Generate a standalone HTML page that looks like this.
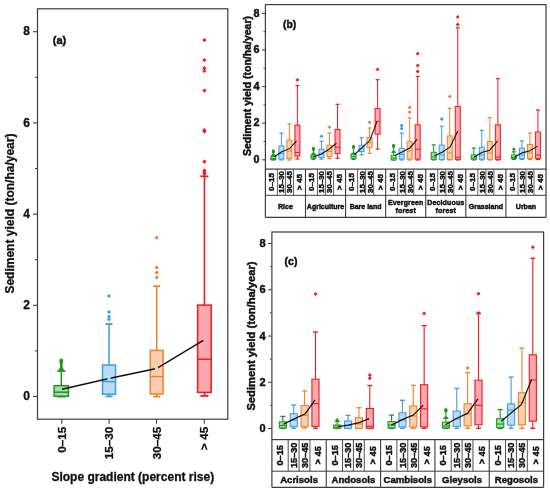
<!DOCTYPE html>
<html><head><meta charset="utf-8"><style>
html,body{margin:0;padding:0;background:#fff;}
svg{display:block;will-change:transform;font-family:"Liberation Sans",sans-serif;}
</style></head><body>
<svg width="550" height="492" viewBox="0 0 550 492">
<rect width="550" height="492" fill="#fff"/>
<line x1="61.30" y1="371.00" x2="61.30" y2="385.70" stroke="#1e961e" stroke-width="1.5" />
<line x1="61.30" y1="396.20" x2="61.30" y2="396.60" stroke="#1e961e" stroke-width="1.5" />
<line x1="57.30" y1="371.00" x2="65.30" y2="371.00" stroke="#1e961e" stroke-width="1.7999999999999998" />
<line x1="57.30" y1="396.60" x2="65.30" y2="396.60" stroke="#1e961e" stroke-width="1.7999999999999998" />
<rect x="54.15" y="385.70" width="14.30" height="10.50" stroke="#1e961e" fill="#a8dca8" stroke-width="1.5"/>
<line x1="54.15" y1="392.20" x2="68.45" y2="392.20" stroke="#1e961e" stroke-width="1.5" />
<path d="M61.3 358.6 C63.6 358.6 63.6 362.8 62.6 363.6 L62.6 367.6 L64.2 370.2 L58.4 370.2 L60.0 367.6 L60.0 363.6 C59.0 362.8 59.0 358.6 61.3 358.6Z" fill="#1e961e"/>
<line x1="109.00" y1="324.10" x2="109.00" y2="365.00" stroke="#3c9ee0" stroke-width="1.5" />
<line x1="109.00" y1="394.20" x2="109.00" y2="396.40" stroke="#3c9ee0" stroke-width="1.5" />
<line x1="105.50" y1="324.10" x2="112.50" y2="324.10" stroke="#3c9ee0" stroke-width="1.7999999999999998" />
<line x1="105.50" y1="396.40" x2="112.50" y2="396.40" stroke="#3c9ee0" stroke-width="1.7999999999999998" />
<rect x="102.50" y="365.00" width="13.00" height="29.20" stroke="#3c9ee0" fill="#bcdcf4" stroke-width="1.5"/>
<line x1="102.50" y1="381.60" x2="115.50" y2="381.60" stroke="#3c9ee0" stroke-width="1.5" />
<path d="M109.00 293.90L111.10 296.00L109.00 298.10L106.90 296.00Z" fill="#3c9ee0"/>
<path d="M109.00 309.90L111.10 312.00L109.00 314.10L106.90 312.00Z" fill="#3c9ee0"/>
<path d="M109.00 314.60L111.10 316.70L109.00 318.80L106.90 316.70Z" fill="#3c9ee0"/>
<path d="M109.00 317.40L111.10 319.50L109.00 321.60L106.90 319.50Z" fill="#3c9ee0"/>
<line x1="156.70" y1="286.20" x2="156.70" y2="350.40" stroke="#f0802c" stroke-width="1.5" />
<line x1="156.70" y1="394.00" x2="156.70" y2="396.60" stroke="#f0802c" stroke-width="1.5" />
<line x1="153.20" y1="286.20" x2="160.20" y2="286.20" stroke="#f0802c" stroke-width="1.7999999999999998" />
<line x1="153.20" y1="396.60" x2="160.20" y2="396.60" stroke="#f0802c" stroke-width="1.7999999999999998" />
<rect x="150.30" y="350.40" width="12.80" height="43.60" stroke="#f0802c" fill="#fbcfae" stroke-width="1.5"/>
<line x1="150.30" y1="376.60" x2="163.10" y2="376.60" stroke="#f0802c" stroke-width="1.5" />
<path d="M156.70 235.60L158.80 237.70L156.70 239.80L154.60 237.70Z" fill="#f0802c"/>
<path d="M156.70 265.30L158.80 267.40L156.70 269.50L154.60 267.40Z" fill="#f0802c"/>
<path d="M156.70 270.50L158.80 272.60L156.70 274.70L154.60 272.60Z" fill="#f0802c"/>
<path d="M156.70 275.40L158.80 277.50L156.70 279.60L154.60 277.50Z" fill="#f0802c"/>
<line x1="204.40" y1="176.30" x2="204.40" y2="305.10" stroke="#ee1a1e" stroke-width="1.5" />
<line x1="204.40" y1="392.40" x2="204.40" y2="395.90" stroke="#ee1a1e" stroke-width="1.5" />
<line x1="200.40" y1="176.30" x2="208.40" y2="176.30" stroke="#ee1a1e" stroke-width="1.7999999999999998" />
<line x1="200.40" y1="395.90" x2="208.40" y2="395.90" stroke="#ee1a1e" stroke-width="1.7999999999999998" />
<rect x="197.60" y="305.10" width="13.60" height="87.30" stroke="#ee1a1e" fill="#f8a8ae" stroke-width="1.5"/>
<line x1="197.60" y1="359.20" x2="211.20" y2="359.20" stroke="#ee1a1e" stroke-width="1.5" />
<path d="M204.40 38.00L206.50 40.10L204.40 42.20L202.30 40.10Z" fill="#ee1a1e"/>
<path d="M204.40 58.00L206.50 60.10L204.40 62.20L202.30 60.10Z" fill="#ee1a1e"/>
<path d="M204.40 66.10L206.50 68.20L204.40 70.30L202.30 68.20Z" fill="#ee1a1e"/>
<path d="M204.40 68.90L206.50 71.00L204.40 73.10L202.30 71.00Z" fill="#ee1a1e"/>
<path d="M204.40 88.50L206.50 90.60L204.40 92.70L202.30 90.60Z" fill="#ee1a1e"/>
<path d="M204.40 128.10L206.50 130.20L204.40 132.30L202.30 130.20Z" fill="#ee1a1e"/>
<path d="M204.40 129.30L206.50 131.40L204.40 133.50L202.30 131.40Z" fill="#ee1a1e"/>
<path d="M204.40 159.60L206.50 161.70L204.40 163.80L202.30 161.70Z" fill="#ee1a1e"/>
<path d="M204.40 168.50L206.50 170.60L204.40 172.70L202.30 170.60Z" fill="#ee1a1e"/>
<path d="M204.40 170.10L206.50 172.20L204.40 174.30L202.30 172.20Z" fill="#ee1a1e"/>
<path d="M204.40 171.70L206.50 173.80L204.40 175.90L202.30 173.80Z" fill="#ee1a1e"/>
<polyline points="62.00,389.30 109.00,378.50 156.50,368.60 203.30,340.40" fill="none" stroke="#111" stroke-width="1.5"/>
<rect x="107.40" y="376.90" width="3.2" height="3.2" fill="#bcdcf4"/>
<rect x="154.90" y="367.00" width="3.2" height="3.2" fill="#fbcfae"/>
<rect x="37.5" y="8.8" width="190.3" height="410.4" fill="none" stroke="#3c3c3c" stroke-width="1.2"/>
<line x1="33.00" y1="396.50" x2="37.50" y2="396.50" stroke="#3c3c3c" stroke-width="1.1" />
<text x="30.00" y="400.10" font-size="12" text-anchor="end" font-weight="bold" fill="#111" stroke="#111" stroke-width="0.3" >0</text>
<line x1="35.00" y1="350.90" x2="37.50" y2="350.90" stroke="#3c3c3c" stroke-width="1.0" />
<line x1="33.00" y1="305.30" x2="37.50" y2="305.30" stroke="#3c3c3c" stroke-width="1.1" />
<text x="30.00" y="308.90" font-size="12" text-anchor="end" font-weight="bold" fill="#111" stroke="#111" stroke-width="0.3" >2</text>
<line x1="35.00" y1="259.70" x2="37.50" y2="259.70" stroke="#3c3c3c" stroke-width="1.0" />
<line x1="33.00" y1="214.10" x2="37.50" y2="214.10" stroke="#3c3c3c" stroke-width="1.1" />
<text x="30.00" y="217.70" font-size="12" text-anchor="end" font-weight="bold" fill="#111" stroke="#111" stroke-width="0.3" >4</text>
<line x1="35.00" y1="168.50" x2="37.50" y2="168.50" stroke="#3c3c3c" stroke-width="1.0" />
<line x1="33.00" y1="122.90" x2="37.50" y2="122.90" stroke="#3c3c3c" stroke-width="1.1" />
<text x="30.00" y="126.50" font-size="12" text-anchor="end" font-weight="bold" fill="#111" stroke="#111" stroke-width="0.3" >6</text>
<line x1="35.00" y1="77.30" x2="37.50" y2="77.30" stroke="#3c3c3c" stroke-width="1.0" />
<line x1="33.00" y1="31.70" x2="37.50" y2="31.70" stroke="#3c3c3c" stroke-width="1.1" />
<text x="30.00" y="35.30" font-size="12" text-anchor="end" font-weight="bold" fill="#111" stroke="#111" stroke-width="0.3" >8</text>
<line x1="61.80" y1="419.20" x2="61.80" y2="423.70" stroke="#3c3c3c" stroke-width="1.1" />
<line x1="109.10" y1="419.20" x2="109.10" y2="423.70" stroke="#3c3c3c" stroke-width="1.1" />
<line x1="156.50" y1="419.20" x2="156.50" y2="423.70" stroke="#3c3c3c" stroke-width="1.1" />
<line x1="204.30" y1="419.20" x2="204.30" y2="423.70" stroke="#3c3c3c" stroke-width="1.1" />
<text x="66.00" y="426.80" font-size="11.7" text-anchor="end" font-weight="bold" fill="#111" stroke="#111" stroke-width="0.3" transform="rotate(-90 66.00 426.80)" >0–15</text>
<text x="113.30" y="426.80" font-size="11.7" text-anchor="end" font-weight="bold" fill="#111" stroke="#111" stroke-width="0.3" transform="rotate(-90 113.30 426.80)" >15–30</text>
<text x="160.70" y="426.80" font-size="11.7" text-anchor="end" font-weight="bold" fill="#111" stroke="#111" stroke-width="0.3" transform="rotate(-90 160.70 426.80)" >30–45</text>
<text x="208.50" y="426.80" font-size="11.7" text-anchor="end" font-weight="bold" fill="#111" stroke="#111" stroke-width="0.3" transform="rotate(-90 208.50 426.80)" >&gt; 45</text>
<text x="13.70" y="213.60" font-size="12" text-anchor="middle" font-weight="bold" fill="#111" stroke="#111" stroke-width="0.3" transform="rotate(-90 13.70 213.60)" >Sediment yield (ton/ha/year)</text>
<text x="132.80" y="481.00" font-size="12" text-anchor="middle" font-weight="bold" fill="#111" stroke="#111" stroke-width="0.3" >Slope gradient (percent rise)</text>
<text x="59.50" y="44.30" font-size="11" text-anchor="middle" font-weight="bold" fill="#111" stroke="#111" stroke-width="0.45" >(a)</text>
<line x1="273.37" y1="155.50" x2="273.37" y2="156.50" stroke="#1e961e" stroke-width="1.0" />
<line x1="273.37" y1="159.60" x2="273.37" y2="160.00" stroke="#1e961e" stroke-width="1.0" />
<line x1="271.37" y1="155.50" x2="275.37" y2="155.50" stroke="#1e961e" stroke-width="1.2" />
<line x1="271.37" y1="160.00" x2="275.37" y2="160.00" stroke="#1e961e" stroke-width="1.2" />
<rect x="270.87" y="156.50" width="5.00" height="3.10" stroke="#1e961e" fill="#a8dca8" stroke-width="1.0"/>
<line x1="270.87" y1="158.50" x2="275.87" y2="158.50" stroke="#1e961e" stroke-width="1.0" />
<path d="M273.37 149.17 C275.42 149.17 275.42 153.16 273.89 153.36 L273.89 153.60 L275.84 155.50 L270.90 155.50 L272.84 153.60 L272.84 153.36 C271.32 153.16 271.32 149.17 273.37 149.17Z" fill="#1e961e"/>
<line x1="281.38" y1="133.20" x2="281.38" y2="145.90" stroke="#3c9ee0" stroke-width="1.0" />
<line x1="281.38" y1="159.10" x2="281.38" y2="160.00" stroke="#3c9ee0" stroke-width="1.0" />
<line x1="279.38" y1="133.20" x2="283.38" y2="133.20" stroke="#3c9ee0" stroke-width="1.2" />
<line x1="279.38" y1="160.00" x2="283.38" y2="160.00" stroke="#3c9ee0" stroke-width="1.2" />
<rect x="278.88" y="145.90" width="5.00" height="13.20" stroke="#3c9ee0" fill="#bcdcf4" stroke-width="1.0"/>
<line x1="278.88" y1="153.50" x2="283.88" y2="153.50" stroke="#3c9ee0" stroke-width="1.0" />
<line x1="289.40" y1="123.90" x2="289.40" y2="140.10" stroke="#f0802c" stroke-width="1.0" />
<line x1="289.40" y1="158.60" x2="289.40" y2="160.00" stroke="#f0802c" stroke-width="1.0" />
<line x1="287.40" y1="123.90" x2="291.40" y2="123.90" stroke="#f0802c" stroke-width="1.2" />
<line x1="287.40" y1="160.00" x2="291.40" y2="160.00" stroke="#f0802c" stroke-width="1.2" />
<rect x="286.90" y="140.10" width="5.00" height="18.50" stroke="#f0802c" fill="#fbcfae" stroke-width="1.0"/>
<line x1="286.90" y1="151.00" x2="291.90" y2="151.00" stroke="#f0802c" stroke-width="1.0" />
<line x1="297.42" y1="85.50" x2="297.42" y2="125.10" stroke="#ee1a1e" stroke-width="1.0" />
<line x1="297.42" y1="156.00" x2="297.42" y2="159.00" stroke="#ee1a1e" stroke-width="1.0" />
<line x1="295.42" y1="85.50" x2="299.42" y2="85.50" stroke="#ee1a1e" stroke-width="1.2" />
<line x1="295.42" y1="159.00" x2="299.42" y2="159.00" stroke="#ee1a1e" stroke-width="1.2" />
<rect x="294.92" y="125.10" width="5.00" height="30.90" stroke="#ee1a1e" fill="#f8a8ae" stroke-width="1.0"/>
<line x1="294.92" y1="152.50" x2="299.92" y2="152.50" stroke="#ee1a1e" stroke-width="1.0" />
<path d="M297.42 78.00L299.32 79.90L297.42 81.80L295.52 79.90Z" fill="#ee1a1e"/>
<polyline points="274.60,156.50 281.80,151.70 289.90,148.40 296.50,140.80" fill="none" stroke="#111" stroke-width="1.1"/>
<line x1="313.45" y1="154.20" x2="313.45" y2="155.00" stroke="#1e961e" stroke-width="1.0" />
<line x1="313.45" y1="158.30" x2="313.45" y2="159.50" stroke="#1e961e" stroke-width="1.0" />
<line x1="311.45" y1="154.20" x2="315.45" y2="154.20" stroke="#1e961e" stroke-width="1.2" />
<line x1="311.45" y1="159.50" x2="315.45" y2="159.50" stroke="#1e961e" stroke-width="1.2" />
<rect x="310.95" y="155.00" width="5.00" height="3.30" stroke="#1e961e" fill="#a8dca8" stroke-width="1.0"/>
<line x1="310.95" y1="157.00" x2="315.95" y2="157.00" stroke="#1e961e" stroke-width="1.0" />
<path d="M313.45 146.67 C315.50 146.67 315.50 150.66 313.98 150.86 L313.98 152.30 L315.92 154.20 L310.98 154.20 L312.93 152.30 L312.93 150.86 C311.40 150.66 311.40 146.67 313.45 146.67Z" fill="#1e961e"/>
<line x1="321.47" y1="141.20" x2="321.47" y2="149.30" stroke="#3c9ee0" stroke-width="1.0" />
<line x1="321.47" y1="157.50" x2="321.47" y2="159.10" stroke="#3c9ee0" stroke-width="1.0" />
<line x1="319.47" y1="141.20" x2="323.47" y2="141.20" stroke="#3c9ee0" stroke-width="1.2" />
<line x1="319.47" y1="159.10" x2="323.47" y2="159.10" stroke="#3c9ee0" stroke-width="1.2" />
<rect x="318.97" y="149.30" width="5.00" height="8.20" stroke="#3c9ee0" fill="#bcdcf4" stroke-width="1.0"/>
<line x1="318.97" y1="154.00" x2="323.97" y2="154.00" stroke="#3c9ee0" stroke-width="1.0" />
<path d="M321.47 134.40L323.37 136.30L321.47 138.20L319.57 136.30Z" fill="#3c9ee0"/>
<line x1="329.49" y1="133.10" x2="329.49" y2="145.30" stroke="#f0802c" stroke-width="1.0" />
<line x1="329.49" y1="156.70" x2="329.49" y2="158.50" stroke="#f0802c" stroke-width="1.0" />
<line x1="327.49" y1="133.10" x2="331.49" y2="133.10" stroke="#f0802c" stroke-width="1.2" />
<line x1="327.49" y1="158.50" x2="331.49" y2="158.50" stroke="#f0802c" stroke-width="1.2" />
<rect x="326.99" y="145.30" width="5.00" height="11.40" stroke="#f0802c" fill="#fbcfae" stroke-width="1.0"/>
<line x1="326.99" y1="151.50" x2="331.99" y2="151.50" stroke="#f0802c" stroke-width="1.0" />
<path d="M329.49 125.20L331.39 127.10L329.49 129.00L327.59 127.10Z" fill="#f0802c"/>
<line x1="337.50" y1="104.30" x2="337.50" y2="129.50" stroke="#ee1a1e" stroke-width="1.0" />
<line x1="337.50" y1="153.40" x2="337.50" y2="158.30" stroke="#ee1a1e" stroke-width="1.0" />
<line x1="335.50" y1="104.30" x2="339.50" y2="104.30" stroke="#ee1a1e" stroke-width="1.2" />
<line x1="335.50" y1="158.30" x2="339.50" y2="158.30" stroke="#ee1a1e" stroke-width="1.2" />
<rect x="335.00" y="129.50" width="5.00" height="23.90" stroke="#ee1a1e" fill="#f8a8ae" stroke-width="1.0"/>
<line x1="335.00" y1="147.20" x2="340.00" y2="147.20" stroke="#ee1a1e" stroke-width="1.0" />
<polyline points="313.50,156.70 321.30,153.90 329.40,149.00 336.50,143.30" fill="none" stroke="#111" stroke-width="1.1"/>
<line x1="353.54" y1="154.00" x2="353.54" y2="154.10" stroke="#1e961e" stroke-width="1.0" />
<line x1="353.54" y1="158.40" x2="353.54" y2="159.50" stroke="#1e961e" stroke-width="1.0" />
<line x1="351.54" y1="154.00" x2="355.54" y2="154.00" stroke="#1e961e" stroke-width="1.2" />
<line x1="351.54" y1="159.50" x2="355.54" y2="159.50" stroke="#1e961e" stroke-width="1.2" />
<rect x="351.04" y="154.10" width="5.00" height="4.30" stroke="#1e961e" fill="#a8dca8" stroke-width="1.0"/>
<line x1="351.04" y1="156.50" x2="356.04" y2="156.50" stroke="#1e961e" stroke-width="1.0" />
<path d="M353.54 144.67 C355.59 144.67 355.59 148.66 354.06 148.86 L354.06 152.10 L356.01 154.00 L351.07 154.00 L353.02 152.10 L353.02 148.86 C351.49 148.66 351.49 144.67 353.54 144.67Z" fill="#1e961e"/>
<line x1="361.56" y1="137.70" x2="361.56" y2="145.30" stroke="#3c9ee0" stroke-width="1.0" />
<line x1="361.56" y1="151.50" x2="361.56" y2="154.80" stroke="#3c9ee0" stroke-width="1.0" />
<line x1="359.56" y1="137.70" x2="363.56" y2="137.70" stroke="#3c9ee0" stroke-width="1.2" />
<line x1="359.56" y1="154.80" x2="363.56" y2="154.80" stroke="#3c9ee0" stroke-width="1.2" />
<rect x="359.06" y="145.30" width="5.00" height="6.20" stroke="#3c9ee0" fill="#bcdcf4" stroke-width="1.0"/>
<line x1="359.06" y1="148.50" x2="364.06" y2="148.50" stroke="#3c9ee0" stroke-width="1.0" />
<line x1="369.57" y1="128.00" x2="369.57" y2="137.70" stroke="#f0802c" stroke-width="1.0" />
<line x1="369.57" y1="147.70" x2="369.57" y2="153.40" stroke="#f0802c" stroke-width="1.0" />
<line x1="367.57" y1="128.00" x2="371.57" y2="128.00" stroke="#f0802c" stroke-width="1.2" />
<line x1="367.57" y1="153.40" x2="371.57" y2="153.40" stroke="#f0802c" stroke-width="1.2" />
<rect x="367.07" y="137.70" width="5.00" height="10.00" stroke="#f0802c" fill="#fbcfae" stroke-width="1.0"/>
<line x1="367.07" y1="142.50" x2="372.07" y2="142.50" stroke="#f0802c" stroke-width="1.0" />
<path d="M369.57 120.40L371.47 122.30L369.57 124.20L367.67 122.30Z" fill="#f0802c"/>
<line x1="377.59" y1="79.70" x2="377.59" y2="108.50" stroke="#ee1a1e" stroke-width="1.0" />
<line x1="377.59" y1="134.20" x2="377.59" y2="149.10" stroke="#ee1a1e" stroke-width="1.0" />
<line x1="375.59" y1="79.70" x2="379.59" y2="79.70" stroke="#ee1a1e" stroke-width="1.2" />
<line x1="375.59" y1="149.10" x2="379.59" y2="149.10" stroke="#ee1a1e" stroke-width="1.2" />
<rect x="375.09" y="108.50" width="5.00" height="25.70" stroke="#ee1a1e" fill="#f8a8ae" stroke-width="1.0"/>
<line x1="375.09" y1="121.40" x2="380.09" y2="121.40" stroke="#ee1a1e" stroke-width="1.0" />
<path d="M377.59 67.50L379.49 69.40L377.59 71.30L375.69 69.40Z" fill="#ee1a1e"/>
<polyline points="354.30,154.80 361.40,148.10 369.90,140.30 377.00,121.40" fill="none" stroke="#111" stroke-width="1.1"/>
<line x1="393.62" y1="152.30" x2="393.62" y2="155.30" stroke="#1e961e" stroke-width="1.0" />
<line x1="393.62" y1="159.90" x2="393.62" y2="160.00" stroke="#1e961e" stroke-width="1.0" />
<line x1="391.62" y1="152.30" x2="395.62" y2="152.30" stroke="#1e961e" stroke-width="1.2" />
<line x1="391.62" y1="160.00" x2="395.62" y2="160.00" stroke="#1e961e" stroke-width="1.2" />
<rect x="391.12" y="155.30" width="5.00" height="4.60" stroke="#1e961e" fill="#a8dca8" stroke-width="1.0"/>
<line x1="391.12" y1="158.00" x2="396.12" y2="158.00" stroke="#1e961e" stroke-width="1.0" />
<path d="M393.62 143.67 C395.68 143.67 395.68 147.66 394.15 147.86 L394.15 150.40 L396.09 152.30 L391.15 152.30 L393.10 150.40 L393.10 147.86 C391.57 147.66 391.57 143.67 393.62 143.67Z" fill="#1e961e"/>
<line x1="401.64" y1="133.20" x2="401.64" y2="148.40" stroke="#3c9ee0" stroke-width="1.0" />
<line x1="401.64" y1="159.10" x2="401.64" y2="160.00" stroke="#3c9ee0" stroke-width="1.0" />
<line x1="399.64" y1="133.20" x2="403.64" y2="133.20" stroke="#3c9ee0" stroke-width="1.2" />
<line x1="399.64" y1="160.00" x2="403.64" y2="160.00" stroke="#3c9ee0" stroke-width="1.2" />
<rect x="399.14" y="148.40" width="5.00" height="10.70" stroke="#3c9ee0" fill="#bcdcf4" stroke-width="1.0"/>
<line x1="399.14" y1="154.50" x2="404.14" y2="154.50" stroke="#3c9ee0" stroke-width="1.0" />
<path d="M401.64 123.60L403.54 125.50L401.64 127.40L399.74 125.50Z" fill="#3c9ee0"/>
<path d="M401.64 126.60L403.54 128.50L401.64 130.40L399.74 128.50Z" fill="#3c9ee0"/>
<line x1="409.66" y1="117.90" x2="409.66" y2="141.60" stroke="#f0802c" stroke-width="1.0" />
<line x1="409.66" y1="159.10" x2="409.66" y2="160.00" stroke="#f0802c" stroke-width="1.0" />
<line x1="407.66" y1="117.90" x2="411.66" y2="117.90" stroke="#f0802c" stroke-width="1.2" />
<line x1="407.66" y1="160.00" x2="411.66" y2="160.00" stroke="#f0802c" stroke-width="1.2" />
<rect x="407.16" y="141.60" width="5.00" height="17.50" stroke="#f0802c" fill="#fbcfae" stroke-width="1.0"/>
<line x1="407.16" y1="151.00" x2="412.16" y2="151.00" stroke="#f0802c" stroke-width="1.0" />
<path d="M409.66 105.60L411.56 107.50L409.66 109.40L407.76 107.50Z" fill="#f0802c"/>
<path d="M409.66 110.20L411.56 112.10L409.66 114.00L407.76 112.10Z" fill="#f0802c"/>
<line x1="417.68" y1="76.40" x2="417.68" y2="124.80" stroke="#ee1a1e" stroke-width="1.0" />
<line x1="417.68" y1="159.10" x2="417.68" y2="160.00" stroke="#ee1a1e" stroke-width="1.0" />
<line x1="415.68" y1="76.40" x2="419.68" y2="76.40" stroke="#ee1a1e" stroke-width="1.2" />
<line x1="415.68" y1="160.00" x2="419.68" y2="160.00" stroke="#ee1a1e" stroke-width="1.2" />
<rect x="415.18" y="124.80" width="5.00" height="34.30" stroke="#ee1a1e" fill="#f8a8ae" stroke-width="1.0"/>
<line x1="415.18" y1="149.20" x2="420.18" y2="149.20" stroke="#ee1a1e" stroke-width="1.0" />
<path d="M417.68 51.80L419.58 53.70L417.68 55.60L415.78 53.70Z" fill="#ee1a1e"/>
<path d="M417.68 63.60L419.58 65.50L417.68 67.40L415.78 65.50Z" fill="#ee1a1e"/>
<path d="M417.68 69.60L419.58 71.50L417.68 73.40L415.78 71.50Z" fill="#ee1a1e"/>
<polyline points="394.90,155.60 402.60,151.80 410.20,147.70 417.10,139.30" fill="none" stroke="#111" stroke-width="1.1"/>
<line x1="433.71" y1="144.90" x2="433.71" y2="152.30" stroke="#1e961e" stroke-width="1.0" />
<line x1="433.71" y1="159.40" x2="433.71" y2="160.00" stroke="#1e961e" stroke-width="1.0" />
<line x1="431.71" y1="144.90" x2="435.71" y2="144.90" stroke="#1e961e" stroke-width="1.2" />
<line x1="431.71" y1="160.00" x2="435.71" y2="160.00" stroke="#1e961e" stroke-width="1.2" />
<rect x="431.21" y="152.30" width="5.00" height="7.10" stroke="#1e961e" fill="#a8dca8" stroke-width="1.0"/>
<line x1="431.21" y1="157.00" x2="436.21" y2="157.00" stroke="#1e961e" stroke-width="1.0" />
<line x1="441.73" y1="126.30" x2="441.73" y2="145.10" stroke="#3c9ee0" stroke-width="1.0" />
<line x1="441.73" y1="159.40" x2="441.73" y2="160.00" stroke="#3c9ee0" stroke-width="1.0" />
<line x1="439.73" y1="126.30" x2="443.73" y2="126.30" stroke="#3c9ee0" stroke-width="1.2" />
<line x1="439.73" y1="160.00" x2="443.73" y2="160.00" stroke="#3c9ee0" stroke-width="1.2" />
<rect x="439.23" y="145.10" width="5.00" height="14.30" stroke="#3c9ee0" fill="#bcdcf4" stroke-width="1.0"/>
<line x1="439.23" y1="155.00" x2="444.23" y2="155.00" stroke="#3c9ee0" stroke-width="1.0" />
<path d="M441.73 117.10L443.63 119.00L441.73 120.90L439.83 119.00Z" fill="#3c9ee0"/>
<line x1="449.74" y1="108.40" x2="449.74" y2="135.90" stroke="#f0802c" stroke-width="1.0" />
<line x1="449.74" y1="159.40" x2="449.74" y2="160.00" stroke="#f0802c" stroke-width="1.0" />
<line x1="447.74" y1="108.40" x2="451.74" y2="108.40" stroke="#f0802c" stroke-width="1.2" />
<line x1="447.74" y1="160.00" x2="451.74" y2="160.00" stroke="#f0802c" stroke-width="1.2" />
<rect x="447.24" y="135.90" width="5.00" height="23.50" stroke="#f0802c" fill="#fbcfae" stroke-width="1.0"/>
<line x1="447.24" y1="153.00" x2="452.24" y2="153.00" stroke="#f0802c" stroke-width="1.0" />
<path d="M449.74 94.60L451.64 96.50L449.74 98.40L447.84 96.50Z" fill="#f0802c"/>
<line x1="457.76" y1="27.80" x2="457.76" y2="106.50" stroke="#ee1a1e" stroke-width="1.0" />
<line x1="457.76" y1="159.40" x2="457.76" y2="160.00" stroke="#ee1a1e" stroke-width="1.0" />
<line x1="455.76" y1="27.80" x2="459.76" y2="27.80" stroke="#ee1a1e" stroke-width="1.2" />
<line x1="455.76" y1="160.00" x2="459.76" y2="160.00" stroke="#ee1a1e" stroke-width="1.2" />
<rect x="455.26" y="106.50" width="5.00" height="52.90" stroke="#ee1a1e" fill="#f8a8ae" stroke-width="1.0"/>
<line x1="455.26" y1="157.30" x2="460.26" y2="157.30" stroke="#ee1a1e" stroke-width="1.0" />
<path d="M457.76 15.00L459.66 16.90L457.76 18.80L455.86 16.90Z" fill="#ee1a1e"/>
<path d="M457.76 22.60L459.66 24.50L457.76 26.40L455.86 24.50Z" fill="#ee1a1e"/>
<polyline points="434.50,155.80 442.10,152.30 450.20,146.90 457.80,130.90" fill="none" stroke="#111" stroke-width="1.1"/>
<line x1="473.80" y1="148.20" x2="473.80" y2="154.90" stroke="#1e961e" stroke-width="1.0" />
<line x1="473.80" y1="159.30" x2="473.80" y2="160.00" stroke="#1e961e" stroke-width="1.0" />
<line x1="471.80" y1="148.20" x2="475.80" y2="148.20" stroke="#1e961e" stroke-width="1.2" />
<line x1="471.80" y1="160.00" x2="475.80" y2="160.00" stroke="#1e961e" stroke-width="1.2" />
<rect x="471.30" y="154.90" width="5.00" height="4.40" stroke="#1e961e" fill="#a8dca8" stroke-width="1.0"/>
<line x1="471.30" y1="158.00" x2="476.30" y2="158.00" stroke="#1e961e" stroke-width="1.0" />
<line x1="481.81" y1="130.30" x2="481.81" y2="147.20" stroke="#3c9ee0" stroke-width="1.0" />
<line x1="481.81" y1="159.30" x2="481.81" y2="160.00" stroke="#3c9ee0" stroke-width="1.0" />
<line x1="479.81" y1="130.30" x2="483.81" y2="130.30" stroke="#3c9ee0" stroke-width="1.2" />
<line x1="479.81" y1="160.00" x2="483.81" y2="160.00" stroke="#3c9ee0" stroke-width="1.2" />
<rect x="479.31" y="147.20" width="5.00" height="12.10" stroke="#3c9ee0" fill="#bcdcf4" stroke-width="1.0"/>
<line x1="479.31" y1="155.00" x2="484.31" y2="155.00" stroke="#3c9ee0" stroke-width="1.0" />
<line x1="489.83" y1="117.70" x2="489.83" y2="141.50" stroke="#f0802c" stroke-width="1.0" />
<line x1="489.83" y1="159.30" x2="489.83" y2="160.00" stroke="#f0802c" stroke-width="1.0" />
<line x1="487.83" y1="117.70" x2="491.83" y2="117.70" stroke="#f0802c" stroke-width="1.2" />
<line x1="487.83" y1="160.00" x2="491.83" y2="160.00" stroke="#f0802c" stroke-width="1.2" />
<rect x="487.33" y="141.50" width="5.00" height="17.80" stroke="#f0802c" fill="#fbcfae" stroke-width="1.0"/>
<line x1="487.33" y1="153.00" x2="492.33" y2="153.00" stroke="#f0802c" stroke-width="1.0" />
<line x1="497.85" y1="78.70" x2="497.85" y2="124.80" stroke="#ee1a1e" stroke-width="1.0" />
<line x1="497.85" y1="159.30" x2="497.85" y2="160.00" stroke="#ee1a1e" stroke-width="1.0" />
<line x1="495.85" y1="78.70" x2="499.85" y2="78.70" stroke="#ee1a1e" stroke-width="1.2" />
<line x1="495.85" y1="160.00" x2="499.85" y2="160.00" stroke="#ee1a1e" stroke-width="1.2" />
<rect x="495.35" y="124.80" width="5.00" height="34.50" stroke="#ee1a1e" fill="#f8a8ae" stroke-width="1.0"/>
<line x1="495.35" y1="157.00" x2="500.35" y2="157.00" stroke="#ee1a1e" stroke-width="1.0" />
<polyline points="474.10,156.90 482.30,152.20 489.80,150.20 497.50,141.10" fill="none" stroke="#111" stroke-width="1.1"/>
<line x1="513.88" y1="151.80" x2="513.88" y2="155.00" stroke="#1e961e" stroke-width="1.0" />
<line x1="513.88" y1="158.60" x2="513.88" y2="159.50" stroke="#1e961e" stroke-width="1.0" />
<line x1="511.88" y1="151.80" x2="515.88" y2="151.80" stroke="#1e961e" stroke-width="1.2" />
<line x1="511.88" y1="159.50" x2="515.88" y2="159.50" stroke="#1e961e" stroke-width="1.2" />
<rect x="511.38" y="155.00" width="5.00" height="3.60" stroke="#1e961e" fill="#a8dca8" stroke-width="1.0"/>
<line x1="511.38" y1="157.50" x2="516.38" y2="157.50" stroke="#1e961e" stroke-width="1.0" />
<path d="M513.88 147.40L515.78 149.30L513.88 151.20L511.98 149.30Z" fill="#1e961e"/>
<line x1="521.90" y1="140.90" x2="521.90" y2="148.20" stroke="#3c9ee0" stroke-width="1.0" />
<line x1="521.90" y1="158.60" x2="521.90" y2="159.50" stroke="#3c9ee0" stroke-width="1.0" />
<line x1="519.90" y1="140.90" x2="523.90" y2="140.90" stroke="#3c9ee0" stroke-width="1.2" />
<line x1="519.90" y1="159.50" x2="523.90" y2="159.50" stroke="#3c9ee0" stroke-width="1.2" />
<rect x="519.40" y="148.20" width="5.00" height="10.40" stroke="#3c9ee0" fill="#bcdcf4" stroke-width="1.0"/>
<line x1="519.40" y1="155.00" x2="524.40" y2="155.00" stroke="#3c9ee0" stroke-width="1.0" />
<line x1="529.92" y1="133.10" x2="529.92" y2="144.50" stroke="#f0802c" stroke-width="1.0" />
<line x1="529.92" y1="158.60" x2="529.92" y2="159.50" stroke="#f0802c" stroke-width="1.0" />
<line x1="527.92" y1="133.10" x2="531.92" y2="133.10" stroke="#f0802c" stroke-width="1.2" />
<line x1="527.92" y1="159.50" x2="531.92" y2="159.50" stroke="#f0802c" stroke-width="1.2" />
<rect x="527.42" y="144.50" width="5.00" height="14.10" stroke="#f0802c" fill="#fbcfae" stroke-width="1.0"/>
<line x1="527.42" y1="153.00" x2="532.42" y2="153.00" stroke="#f0802c" stroke-width="1.0" />
<line x1="537.93" y1="110.00" x2="537.93" y2="132.00" stroke="#ee1a1e" stroke-width="1.0" />
<line x1="537.93" y1="158.60" x2="537.93" y2="159.50" stroke="#ee1a1e" stroke-width="1.0" />
<line x1="535.93" y1="110.00" x2="539.93" y2="110.00" stroke="#ee1a1e" stroke-width="1.2" />
<line x1="535.93" y1="159.50" x2="539.93" y2="159.50" stroke="#ee1a1e" stroke-width="1.2" />
<rect x="535.43" y="132.00" width="5.00" height="26.60" stroke="#ee1a1e" fill="#f8a8ae" stroke-width="1.0"/>
<line x1="535.43" y1="155.00" x2="540.43" y2="155.00" stroke="#ee1a1e" stroke-width="1.0" />
<polyline points="514.80,156.70 522.90,152.60 529.40,151.00 537.50,146.10" fill="none" stroke="#111" stroke-width="1.1"/>
<rect x="265.4" y="4.6" width="280.6" height="164.5" fill="none" stroke="#3c3c3c" stroke-width="1.2"/>
<line x1="261.90" y1="159.80" x2="265.40" y2="159.80" stroke="#3c3c3c" stroke-width="1.0" />
<text x="259.40" y="163.00" font-size="10.8" text-anchor="end" font-weight="bold" fill="#111" stroke="#111" stroke-width="0.45" >0</text>
<line x1="263.40" y1="141.50" x2="265.40" y2="141.50" stroke="#3c3c3c" stroke-width="0.9" />
<line x1="261.90" y1="123.20" x2="265.40" y2="123.20" stroke="#3c3c3c" stroke-width="1.0" />
<text x="259.40" y="126.40" font-size="10.8" text-anchor="end" font-weight="bold" fill="#111" stroke="#111" stroke-width="0.45" >2</text>
<line x1="263.40" y1="104.90" x2="265.40" y2="104.90" stroke="#3c3c3c" stroke-width="0.9" />
<line x1="261.90" y1="86.60" x2="265.40" y2="86.60" stroke="#3c3c3c" stroke-width="1.0" />
<text x="259.40" y="89.80" font-size="10.8" text-anchor="end" font-weight="bold" fill="#111" stroke="#111" stroke-width="0.45" >4</text>
<line x1="263.40" y1="68.30" x2="265.40" y2="68.30" stroke="#3c3c3c" stroke-width="0.9" />
<line x1="261.90" y1="50.00" x2="265.40" y2="50.00" stroke="#3c3c3c" stroke-width="1.0" />
<text x="259.40" y="53.20" font-size="10.8" text-anchor="end" font-weight="bold" fill="#111" stroke="#111" stroke-width="0.45" >6</text>
<line x1="263.40" y1="31.70" x2="265.40" y2="31.70" stroke="#3c3c3c" stroke-width="0.9" />
<line x1="261.90" y1="13.40" x2="265.40" y2="13.40" stroke="#3c3c3c" stroke-width="1.0" />
<text x="259.40" y="16.60" font-size="10.8" text-anchor="end" font-weight="bold" fill="#111" stroke="#111" stroke-width="0.45" >8</text>
<text x="250.90" y="86.00" font-size="10.5" text-anchor="middle" font-weight="bold" fill="#111" stroke="#111" stroke-width="0.45" transform="rotate(-90 250.90 86.00)" >Sediment yield (ton/ha/year)</text>
<text x="289.60" y="27.90" font-size="10.3" text-anchor="middle" font-weight="bold" fill="#111" stroke="#111" stroke-width="0.45" >(b)</text>
<line x1="265.40" y1="169.10" x2="265.40" y2="217.30" stroke="#3c3c3c" stroke-width="1.2" />
<line x1="546.00" y1="169.10" x2="546.00" y2="217.30" stroke="#3c3c3c" stroke-width="1.2" />
<line x1="265.40" y1="195.30" x2="546.00" y2="195.30" stroke="#3c3c3c" stroke-width="1.0" />
<line x1="265.40" y1="217.30" x2="546.00" y2="217.30" stroke="#3c3c3c" stroke-width="1.2" />
<line x1="277.43" y1="169.10" x2="277.43" y2="195.30" stroke="#3c3c3c" stroke-width="0.8" />
<line x1="285.44" y1="169.10" x2="285.44" y2="195.30" stroke="#3c3c3c" stroke-width="0.8" />
<line x1="293.46" y1="169.10" x2="293.46" y2="195.30" stroke="#3c3c3c" stroke-width="0.8" />
<text x="274.31" y="182.00" font-size="8" text-anchor="middle" font-weight="bold" fill="#111" stroke="#111" stroke-width="0.45" transform="rotate(-90 274.31 182.00)" dominant-baseline="auto">0–15</text>
<text x="284.33" y="182.00" font-size="7.9" text-anchor="middle" font-weight="bold" fill="#111" stroke="#111" stroke-width="0.45" transform="rotate(-90 284.33 182.00)" dominant-baseline="auto">15–30</text>
<text x="292.35" y="182.00" font-size="7.9" text-anchor="middle" font-weight="bold" fill="#111" stroke="#111" stroke-width="0.45" transform="rotate(-90 292.35 182.00)" dominant-baseline="auto">30–45</text>
<text x="302.37" y="182.00" font-size="8" text-anchor="middle" font-weight="bold" fill="#111" stroke="#111" stroke-width="0.45" transform="rotate(-90 302.37 182.00)" dominant-baseline="auto">&gt; 45</text>
<text x="285.44" y="209.00" font-size="7" text-anchor="middle" font-weight="bold" fill="#111" stroke="#111" stroke-width="0.45" >Rice</text>
<line x1="305.49" y1="169.10" x2="305.49" y2="217.30" stroke="#3c3c3c" stroke-width="1.1" />
<line x1="317.51" y1="169.10" x2="317.51" y2="195.30" stroke="#3c3c3c" stroke-width="0.8" />
<line x1="325.53" y1="169.10" x2="325.53" y2="195.30" stroke="#3c3c3c" stroke-width="0.8" />
<line x1="333.55" y1="169.10" x2="333.55" y2="195.30" stroke="#3c3c3c" stroke-width="0.8" />
<text x="314.40" y="182.00" font-size="8" text-anchor="middle" font-weight="bold" fill="#111" stroke="#111" stroke-width="0.45" transform="rotate(-90 314.40 182.00)" dominant-baseline="auto">0–15</text>
<text x="324.42" y="182.00" font-size="7.9" text-anchor="middle" font-weight="bold" fill="#111" stroke="#111" stroke-width="0.45" transform="rotate(-90 324.42 182.00)" dominant-baseline="auto">15–30</text>
<text x="332.44" y="182.00" font-size="7.9" text-anchor="middle" font-weight="bold" fill="#111" stroke="#111" stroke-width="0.45" transform="rotate(-90 332.44 182.00)" dominant-baseline="auto">30–45</text>
<text x="342.46" y="182.00" font-size="8" text-anchor="middle" font-weight="bold" fill="#111" stroke="#111" stroke-width="0.45" transform="rotate(-90 342.46 182.00)" dominant-baseline="auto">&gt; 45</text>
<text x="325.53" y="209.00" font-size="7" text-anchor="middle" font-weight="bold" fill="#111" stroke="#111" stroke-width="0.45" >Agriculture</text>
<line x1="345.57" y1="169.10" x2="345.57" y2="217.30" stroke="#3c3c3c" stroke-width="1.1" />
<line x1="357.60" y1="169.10" x2="357.60" y2="195.30" stroke="#3c3c3c" stroke-width="0.8" />
<line x1="365.61" y1="169.10" x2="365.61" y2="195.30" stroke="#3c3c3c" stroke-width="0.8" />
<line x1="373.63" y1="169.10" x2="373.63" y2="195.30" stroke="#3c3c3c" stroke-width="0.8" />
<text x="354.48" y="182.00" font-size="8" text-anchor="middle" font-weight="bold" fill="#111" stroke="#111" stroke-width="0.45" transform="rotate(-90 354.48 182.00)" dominant-baseline="auto">0–15</text>
<text x="364.51" y="182.00" font-size="7.9" text-anchor="middle" font-weight="bold" fill="#111" stroke="#111" stroke-width="0.45" transform="rotate(-90 364.51 182.00)" dominant-baseline="auto">15–30</text>
<text x="372.52" y="182.00" font-size="7.9" text-anchor="middle" font-weight="bold" fill="#111" stroke="#111" stroke-width="0.45" transform="rotate(-90 372.52 182.00)" dominant-baseline="auto">30–45</text>
<text x="382.54" y="182.00" font-size="8" text-anchor="middle" font-weight="bold" fill="#111" stroke="#111" stroke-width="0.45" transform="rotate(-90 382.54 182.00)" dominant-baseline="auto">&gt; 45</text>
<text x="365.61" y="209.00" font-size="7" text-anchor="middle" font-weight="bold" fill="#111" stroke="#111" stroke-width="0.45" >Bare land</text>
<line x1="385.66" y1="169.10" x2="385.66" y2="217.30" stroke="#3c3c3c" stroke-width="1.1" />
<line x1="397.68" y1="169.10" x2="397.68" y2="195.30" stroke="#3c3c3c" stroke-width="0.8" />
<line x1="405.70" y1="169.10" x2="405.70" y2="195.30" stroke="#3c3c3c" stroke-width="0.8" />
<line x1="413.72" y1="169.10" x2="413.72" y2="195.30" stroke="#3c3c3c" stroke-width="0.8" />
<text x="394.57" y="182.00" font-size="8" text-anchor="middle" font-weight="bold" fill="#111" stroke="#111" stroke-width="0.45" transform="rotate(-90 394.57 182.00)" dominant-baseline="auto">0–15</text>
<text x="404.59" y="182.00" font-size="7.9" text-anchor="middle" font-weight="bold" fill="#111" stroke="#111" stroke-width="0.45" transform="rotate(-90 404.59 182.00)" dominant-baseline="auto">15–30</text>
<text x="412.61" y="182.00" font-size="7.9" text-anchor="middle" font-weight="bold" fill="#111" stroke="#111" stroke-width="0.45" transform="rotate(-90 412.61 182.00)" dominant-baseline="auto">30–45</text>
<text x="422.63" y="182.00" font-size="8" text-anchor="middle" font-weight="bold" fill="#111" stroke="#111" stroke-width="0.45" transform="rotate(-90 422.63 182.00)" dominant-baseline="auto">&gt; 45</text>
<text x="405.70" y="204.80" font-size="7" text-anchor="middle" font-weight="bold" fill="#111" stroke="#111" stroke-width="0.45" letter-spacing="0.15">Evergreen</text>
<text x="405.70" y="213.30" font-size="7" text-anchor="middle" font-weight="bold" fill="#111" stroke="#111" stroke-width="0.45" letter-spacing="0.15">forest</text>
<line x1="425.74" y1="169.10" x2="425.74" y2="217.30" stroke="#3c3c3c" stroke-width="1.1" />
<line x1="437.77" y1="169.10" x2="437.77" y2="195.30" stroke="#3c3c3c" stroke-width="0.8" />
<line x1="445.79" y1="169.10" x2="445.79" y2="195.30" stroke="#3c3c3c" stroke-width="0.8" />
<line x1="453.80" y1="169.10" x2="453.80" y2="195.30" stroke="#3c3c3c" stroke-width="0.8" />
<text x="434.66" y="182.00" font-size="8" text-anchor="middle" font-weight="bold" fill="#111" stroke="#111" stroke-width="0.45" transform="rotate(-90 434.66 182.00)" dominant-baseline="auto">0–15</text>
<text x="444.68" y="182.00" font-size="7.9" text-anchor="middle" font-weight="bold" fill="#111" stroke="#111" stroke-width="0.45" transform="rotate(-90 444.68 182.00)" dominant-baseline="auto">15–30</text>
<text x="452.69" y="182.00" font-size="7.9" text-anchor="middle" font-weight="bold" fill="#111" stroke="#111" stroke-width="0.45" transform="rotate(-90 452.69 182.00)" dominant-baseline="auto">30–45</text>
<text x="462.72" y="182.00" font-size="8" text-anchor="middle" font-weight="bold" fill="#111" stroke="#111" stroke-width="0.45" transform="rotate(-90 462.72 182.00)" dominant-baseline="auto">&gt; 45</text>
<text x="445.79" y="204.80" font-size="7" text-anchor="middle" font-weight="bold" fill="#111" stroke="#111" stroke-width="0.45" letter-spacing="0.15">Deciduous</text>
<text x="445.79" y="213.30" font-size="7" text-anchor="middle" font-weight="bold" fill="#111" stroke="#111" stroke-width="0.45" letter-spacing="0.15">forest</text>
<line x1="465.83" y1="169.10" x2="465.83" y2="217.30" stroke="#3c3c3c" stroke-width="1.1" />
<line x1="477.85" y1="169.10" x2="477.85" y2="195.30" stroke="#3c3c3c" stroke-width="0.8" />
<line x1="485.87" y1="169.10" x2="485.87" y2="195.30" stroke="#3c3c3c" stroke-width="0.8" />
<line x1="493.89" y1="169.10" x2="493.89" y2="195.30" stroke="#3c3c3c" stroke-width="0.8" />
<text x="474.74" y="182.00" font-size="8" text-anchor="middle" font-weight="bold" fill="#111" stroke="#111" stroke-width="0.45" transform="rotate(-90 474.74 182.00)" dominant-baseline="auto">0–15</text>
<text x="484.76" y="182.00" font-size="7.9" text-anchor="middle" font-weight="bold" fill="#111" stroke="#111" stroke-width="0.45" transform="rotate(-90 484.76 182.00)" dominant-baseline="auto">15–30</text>
<text x="492.78" y="182.00" font-size="7.9" text-anchor="middle" font-weight="bold" fill="#111" stroke="#111" stroke-width="0.45" transform="rotate(-90 492.78 182.00)" dominant-baseline="auto">30–45</text>
<text x="502.80" y="182.00" font-size="8" text-anchor="middle" font-weight="bold" fill="#111" stroke="#111" stroke-width="0.45" transform="rotate(-90 502.80 182.00)" dominant-baseline="auto">&gt; 45</text>
<text x="485.87" y="209.00" font-size="7" text-anchor="middle" font-weight="bold" fill="#111" stroke="#111" stroke-width="0.45" >Grassland</text>
<line x1="505.91" y1="169.10" x2="505.91" y2="217.30" stroke="#3c3c3c" stroke-width="1.1" />
<line x1="517.94" y1="169.10" x2="517.94" y2="195.30" stroke="#3c3c3c" stroke-width="0.8" />
<line x1="525.96" y1="169.10" x2="525.96" y2="195.30" stroke="#3c3c3c" stroke-width="0.8" />
<line x1="533.97" y1="169.10" x2="533.97" y2="195.30" stroke="#3c3c3c" stroke-width="0.8" />
<text x="514.83" y="182.00" font-size="8" text-anchor="middle" font-weight="bold" fill="#111" stroke="#111" stroke-width="0.45" transform="rotate(-90 514.83 182.00)" dominant-baseline="auto">0–15</text>
<text x="524.85" y="182.00" font-size="7.9" text-anchor="middle" font-weight="bold" fill="#111" stroke="#111" stroke-width="0.45" transform="rotate(-90 524.85 182.00)" dominant-baseline="auto">15–30</text>
<text x="532.87" y="182.00" font-size="7.9" text-anchor="middle" font-weight="bold" fill="#111" stroke="#111" stroke-width="0.45" transform="rotate(-90 532.87 182.00)" dominant-baseline="auto">30–45</text>
<text x="542.89" y="182.00" font-size="8" text-anchor="middle" font-weight="bold" fill="#111" stroke="#111" stroke-width="0.45" transform="rotate(-90 542.89 182.00)" dominant-baseline="auto">&gt; 45</text>
<text x="525.96" y="209.00" font-size="7" text-anchor="middle" font-weight="bold" fill="#111" stroke="#111" stroke-width="0.45" >Urban</text>
<line x1="282.87" y1="416.40" x2="282.87" y2="421.80" stroke="#1e961e" stroke-width="1.1" />
<line x1="282.87" y1="428.00" x2="282.87" y2="428.50" stroke="#1e961e" stroke-width="1.1" />
<line x1="280.37" y1="416.40" x2="285.37" y2="416.40" stroke="#1e961e" stroke-width="1.32" />
<line x1="280.37" y1="428.50" x2="285.37" y2="428.50" stroke="#1e961e" stroke-width="1.32" />
<rect x="279.32" y="421.80" width="7.10" height="6.20" stroke="#1e961e" fill="#a8dca8" stroke-width="1.1"/>
<line x1="279.32" y1="425.50" x2="286.42" y2="425.50" stroke="#1e961e" stroke-width="1.1" />
<line x1="293.74" y1="405.00" x2="293.74" y2="413.70" stroke="#3c9ee0" stroke-width="1.1" />
<line x1="293.74" y1="426.70" x2="293.74" y2="428.30" stroke="#3c9ee0" stroke-width="1.1" />
<line x1="291.24" y1="405.00" x2="296.24" y2="405.00" stroke="#3c9ee0" stroke-width="1.32" />
<line x1="291.24" y1="428.30" x2="296.24" y2="428.30" stroke="#3c9ee0" stroke-width="1.32" />
<rect x="290.19" y="413.70" width="7.10" height="13.00" stroke="#3c9ee0" fill="#bcdcf4" stroke-width="1.1"/>
<line x1="290.19" y1="420.00" x2="297.29" y2="420.00" stroke="#3c9ee0" stroke-width="1.1" />
<line x1="304.60" y1="390.90" x2="304.60" y2="405.50" stroke="#f0802c" stroke-width="1.1" />
<line x1="304.60" y1="426.70" x2="304.60" y2="428.00" stroke="#f0802c" stroke-width="1.1" />
<line x1="302.10" y1="390.90" x2="307.10" y2="390.90" stroke="#f0802c" stroke-width="1.32" />
<line x1="302.10" y1="428.00" x2="307.10" y2="428.00" stroke="#f0802c" stroke-width="1.32" />
<rect x="301.05" y="405.50" width="7.10" height="21.20" stroke="#f0802c" fill="#fbcfae" stroke-width="1.1"/>
<line x1="301.05" y1="415.50" x2="308.15" y2="415.50" stroke="#f0802c" stroke-width="1.1" />
<line x1="315.47" y1="332.00" x2="315.47" y2="379.20" stroke="#ee1a1e" stroke-width="1.1" />
<line x1="315.47" y1="426.40" x2="315.47" y2="428.30" stroke="#ee1a1e" stroke-width="1.1" />
<line x1="312.97" y1="332.00" x2="317.97" y2="332.00" stroke="#ee1a1e" stroke-width="1.32" />
<line x1="312.97" y1="428.30" x2="317.97" y2="428.30" stroke="#ee1a1e" stroke-width="1.32" />
<rect x="311.92" y="379.20" width="7.10" height="47.20" stroke="#ee1a1e" fill="#f8a8ae" stroke-width="1.1"/>
<line x1="311.92" y1="403.60" x2="319.02" y2="403.60" stroke="#ee1a1e" stroke-width="1.1" />
<path d="M315.47 292.00L317.47 294.00L315.47 296.00L313.47 294.00Z" fill="#ee1a1e"/>
<polyline points="283.40,424.20 294.80,418.60 305.30,413.70 315.10,399.90" fill="none" stroke="#111" stroke-width="1.2"/>
<line x1="337.21" y1="421.50" x2="337.21" y2="425.00" stroke="#1e961e" stroke-width="1.1" />
<line x1="337.21" y1="428.30" x2="337.21" y2="428.50" stroke="#1e961e" stroke-width="1.1" />
<line x1="334.71" y1="421.50" x2="339.71" y2="421.50" stroke="#1e961e" stroke-width="1.32" />
<line x1="334.71" y1="428.50" x2="339.71" y2="428.50" stroke="#1e961e" stroke-width="1.32" />
<rect x="333.66" y="425.00" width="7.10" height="3.30" stroke="#1e961e" fill="#a8dca8" stroke-width="1.1"/>
<line x1="333.66" y1="427.00" x2="340.76" y2="427.00" stroke="#1e961e" stroke-width="1.1" />
<path d="M337.21 418.00L339.21 420.00L337.21 422.00L335.21 420.00Z" fill="#1e961e"/>
<line x1="348.08" y1="415.30" x2="348.08" y2="421.00" stroke="#3c9ee0" stroke-width="1.1" />
<line x1="348.08" y1="428.30" x2="348.08" y2="428.50" stroke="#3c9ee0" stroke-width="1.1" />
<line x1="345.58" y1="415.30" x2="350.58" y2="415.30" stroke="#3c9ee0" stroke-width="1.32" />
<line x1="345.58" y1="428.50" x2="350.58" y2="428.50" stroke="#3c9ee0" stroke-width="1.32" />
<rect x="344.53" y="421.00" width="7.10" height="7.30" stroke="#3c9ee0" fill="#bcdcf4" stroke-width="1.1"/>
<line x1="344.53" y1="425.50" x2="351.63" y2="425.50" stroke="#3c9ee0" stroke-width="1.1" />
<line x1="358.94" y1="407.70" x2="358.94" y2="417.70" stroke="#f0802c" stroke-width="1.1" />
<line x1="358.94" y1="428.30" x2="358.94" y2="428.50" stroke="#f0802c" stroke-width="1.1" />
<line x1="356.44" y1="407.70" x2="361.44" y2="407.70" stroke="#f0802c" stroke-width="1.32" />
<line x1="356.44" y1="428.50" x2="361.44" y2="428.50" stroke="#f0802c" stroke-width="1.32" />
<rect x="355.39" y="417.70" width="7.10" height="10.60" stroke="#f0802c" fill="#fbcfae" stroke-width="1.1"/>
<line x1="355.39" y1="424.00" x2="362.49" y2="424.00" stroke="#f0802c" stroke-width="1.1" />
<line x1="369.81" y1="385.50" x2="369.81" y2="408.50" stroke="#ee1a1e" stroke-width="1.1" />
<line x1="369.81" y1="428.30" x2="369.81" y2="428.50" stroke="#ee1a1e" stroke-width="1.1" />
<line x1="367.31" y1="385.50" x2="372.31" y2="385.50" stroke="#ee1a1e" stroke-width="1.32" />
<line x1="367.31" y1="428.50" x2="372.31" y2="428.50" stroke="#ee1a1e" stroke-width="1.32" />
<rect x="366.26" y="408.50" width="7.10" height="19.80" stroke="#ee1a1e" fill="#f8a8ae" stroke-width="1.1"/>
<line x1="366.26" y1="426.40" x2="373.36" y2="426.40" stroke="#ee1a1e" stroke-width="1.1" />
<path d="M369.81 373.00L371.81 375.00L369.81 377.00L367.81 375.00Z" fill="#ee1a1e"/>
<path d="M369.81 376.20L371.81 378.20L369.81 380.20L367.81 378.20Z" fill="#ee1a1e"/>
<polyline points="338.20,426.70 348.00,425.10 359.30,422.60 369.10,418.60" fill="none" stroke="#111" stroke-width="1.2"/>
<line x1="391.55" y1="415.10" x2="391.55" y2="421.60" stroke="#1e961e" stroke-width="1.1" />
<line x1="391.55" y1="427.90" x2="391.55" y2="428.50" stroke="#1e961e" stroke-width="1.1" />
<line x1="389.05" y1="415.10" x2="394.05" y2="415.10" stroke="#1e961e" stroke-width="1.32" />
<line x1="389.05" y1="428.50" x2="394.05" y2="428.50" stroke="#1e961e" stroke-width="1.32" />
<rect x="388.00" y="421.60" width="7.10" height="6.30" stroke="#1e961e" fill="#a8dca8" stroke-width="1.1"/>
<line x1="388.00" y1="425.00" x2="395.10" y2="425.00" stroke="#1e961e" stroke-width="1.1" />
<line x1="402.42" y1="400.30" x2="402.42" y2="412.80" stroke="#3c9ee0" stroke-width="1.1" />
<line x1="402.42" y1="427.00" x2="402.42" y2="428.30" stroke="#3c9ee0" stroke-width="1.1" />
<line x1="399.92" y1="400.30" x2="404.92" y2="400.30" stroke="#3c9ee0" stroke-width="1.32" />
<line x1="399.92" y1="428.30" x2="404.92" y2="428.30" stroke="#3c9ee0" stroke-width="1.32" />
<rect x="398.87" y="412.80" width="7.10" height="14.20" stroke="#3c9ee0" fill="#bcdcf4" stroke-width="1.1"/>
<line x1="398.87" y1="420.00" x2="405.97" y2="420.00" stroke="#3c9ee0" stroke-width="1.1" />
<line x1="413.28" y1="385.30" x2="413.28" y2="406.00" stroke="#f0802c" stroke-width="1.1" />
<line x1="413.28" y1="427.00" x2="413.28" y2="428.30" stroke="#f0802c" stroke-width="1.1" />
<line x1="410.78" y1="385.30" x2="415.78" y2="385.30" stroke="#f0802c" stroke-width="1.32" />
<line x1="410.78" y1="428.30" x2="415.78" y2="428.30" stroke="#f0802c" stroke-width="1.32" />
<rect x="409.73" y="406.00" width="7.10" height="21.00" stroke="#f0802c" fill="#fbcfae" stroke-width="1.1"/>
<line x1="409.73" y1="416.00" x2="416.83" y2="416.00" stroke="#f0802c" stroke-width="1.1" />
<line x1="424.15" y1="325.60" x2="424.15" y2="384.70" stroke="#ee1a1e" stroke-width="1.1" />
<line x1="424.15" y1="427.00" x2="424.15" y2="428.30" stroke="#ee1a1e" stroke-width="1.1" />
<line x1="421.65" y1="325.60" x2="426.65" y2="325.60" stroke="#ee1a1e" stroke-width="1.32" />
<line x1="421.65" y1="428.30" x2="426.65" y2="428.30" stroke="#ee1a1e" stroke-width="1.32" />
<rect x="420.60" y="384.70" width="7.10" height="42.30" stroke="#ee1a1e" fill="#f8a8ae" stroke-width="1.1"/>
<line x1="420.60" y1="408.90" x2="427.70" y2="408.90" stroke="#ee1a1e" stroke-width="1.1" />
<path d="M424.15 311.40L426.15 313.40L424.15 315.40L422.15 313.40Z" fill="#ee1a1e"/>
<polyline points="391.40,425.10 402.70,419.40 413.30,415.10 423.20,405.20" fill="none" stroke="#111" stroke-width="1.2"/>
<line x1="445.89" y1="418.30" x2="445.89" y2="422.20" stroke="#1e961e" stroke-width="1.1" />
<line x1="445.89" y1="428.00" x2="445.89" y2="428.50" stroke="#1e961e" stroke-width="1.1" />
<line x1="443.39" y1="418.30" x2="448.39" y2="418.30" stroke="#1e961e" stroke-width="1.32" />
<line x1="443.39" y1="428.50" x2="448.39" y2="428.50" stroke="#1e961e" stroke-width="1.32" />
<rect x="442.34" y="422.20" width="7.10" height="5.80" stroke="#1e961e" fill="#a8dca8" stroke-width="1.1"/>
<line x1="442.34" y1="426.00" x2="449.44" y2="426.00" stroke="#1e961e" stroke-width="1.1" />
<path d="M445.89 408.10 C448.05 408.10 448.05 412.30 446.44 412.51 L446.44 416.30 L448.49 418.30 L443.29 418.30 L445.34 416.30 L445.34 412.51 C443.73 412.30 443.73 408.10 445.89 408.10Z" fill="#1e961e"/>
<line x1="456.76" y1="388.40" x2="456.76" y2="411.10" stroke="#3c9ee0" stroke-width="1.1" />
<line x1="456.76" y1="426.40" x2="456.76" y2="428.30" stroke="#3c9ee0" stroke-width="1.1" />
<line x1="454.26" y1="388.40" x2="459.26" y2="388.40" stroke="#3c9ee0" stroke-width="1.32" />
<line x1="454.26" y1="428.30" x2="459.26" y2="428.30" stroke="#3c9ee0" stroke-width="1.32" />
<rect x="453.21" y="411.10" width="7.10" height="15.30" stroke="#3c9ee0" fill="#bcdcf4" stroke-width="1.1"/>
<line x1="453.21" y1="419.00" x2="460.31" y2="419.00" stroke="#3c9ee0" stroke-width="1.1" />
<line x1="467.62" y1="372.70" x2="467.62" y2="403.70" stroke="#f0802c" stroke-width="1.1" />
<line x1="467.62" y1="425.80" x2="467.62" y2="428.30" stroke="#f0802c" stroke-width="1.1" />
<line x1="465.12" y1="372.70" x2="470.12" y2="372.70" stroke="#f0802c" stroke-width="1.32" />
<line x1="465.12" y1="428.30" x2="470.12" y2="428.30" stroke="#f0802c" stroke-width="1.32" />
<rect x="464.07" y="403.70" width="7.10" height="22.10" stroke="#f0802c" fill="#fbcfae" stroke-width="1.1"/>
<line x1="464.07" y1="414.00" x2="471.17" y2="414.00" stroke="#f0802c" stroke-width="1.1" />
<path d="M467.62 365.90L469.62 367.90L467.62 369.90L465.62 367.90Z" fill="#f0802c"/>
<line x1="478.49" y1="313.50" x2="478.49" y2="380.20" stroke="#ee1a1e" stroke-width="1.1" />
<line x1="478.49" y1="424.80" x2="478.49" y2="428.30" stroke="#ee1a1e" stroke-width="1.1" />
<line x1="475.99" y1="313.50" x2="480.99" y2="313.50" stroke="#ee1a1e" stroke-width="1.32" />
<line x1="475.99" y1="428.30" x2="480.99" y2="428.30" stroke="#ee1a1e" stroke-width="1.32" />
<rect x="474.94" y="380.20" width="7.10" height="44.60" stroke="#ee1a1e" fill="#f8a8ae" stroke-width="1.1"/>
<line x1="474.94" y1="405.30" x2="482.04" y2="405.30" stroke="#ee1a1e" stroke-width="1.1" />
<path d="M478.49 291.70L480.49 293.70L478.49 295.70L476.49 293.70Z" fill="#ee1a1e"/>
<path d="M478.49 311.00L480.49 313.00L478.49 315.00L476.49 313.00Z" fill="#ee1a1e"/>
<polyline points="445.40,424.80 456.80,418.30 467.50,413.40 477.90,398.80" fill="none" stroke="#111" stroke-width="1.2"/>
<line x1="500.23" y1="409.60" x2="500.23" y2="418.70" stroke="#1e961e" stroke-width="1.1" />
<line x1="500.23" y1="427.70" x2="500.23" y2="428.50" stroke="#1e961e" stroke-width="1.1" />
<line x1="497.73" y1="409.60" x2="502.73" y2="409.60" stroke="#1e961e" stroke-width="1.32" />
<line x1="497.73" y1="428.50" x2="502.73" y2="428.50" stroke="#1e961e" stroke-width="1.32" />
<rect x="496.68" y="418.70" width="7.10" height="9.00" stroke="#1e961e" fill="#a8dca8" stroke-width="1.1"/>
<line x1="496.68" y1="424.00" x2="503.78" y2="424.00" stroke="#1e961e" stroke-width="1.1" />
<line x1="511.10" y1="377.10" x2="511.10" y2="403.90" stroke="#3c9ee0" stroke-width="1.1" />
<line x1="511.10" y1="425.20" x2="511.10" y2="428.30" stroke="#3c9ee0" stroke-width="1.1" />
<line x1="508.60" y1="377.10" x2="513.60" y2="377.10" stroke="#3c9ee0" stroke-width="1.32" />
<line x1="508.60" y1="428.30" x2="513.60" y2="428.30" stroke="#3c9ee0" stroke-width="1.32" />
<rect x="507.55" y="403.90" width="7.10" height="21.30" stroke="#3c9ee0" fill="#bcdcf4" stroke-width="1.1"/>
<line x1="507.55" y1="410.00" x2="514.65" y2="410.00" stroke="#3c9ee0" stroke-width="1.1" />
<line x1="521.96" y1="348.10" x2="521.96" y2="392.80" stroke="#f0802c" stroke-width="1.1" />
<line x1="521.96" y1="424.80" x2="521.96" y2="428.30" stroke="#f0802c" stroke-width="1.1" />
<line x1="519.46" y1="348.10" x2="524.46" y2="348.10" stroke="#f0802c" stroke-width="1.32" />
<line x1="519.46" y1="428.30" x2="524.46" y2="428.30" stroke="#f0802c" stroke-width="1.32" />
<rect x="518.41" y="392.80" width="7.10" height="32.00" stroke="#f0802c" fill="#fbcfae" stroke-width="1.1"/>
<line x1="518.41" y1="402.30" x2="525.51" y2="402.30" stroke="#f0802c" stroke-width="1.1" />
<line x1="532.83" y1="258.30" x2="532.83" y2="354.80" stroke="#ee1a1e" stroke-width="1.1" />
<line x1="532.83" y1="421.20" x2="532.83" y2="428.30" stroke="#ee1a1e" stroke-width="1.1" />
<line x1="530.33" y1="258.30" x2="535.33" y2="258.30" stroke="#ee1a1e" stroke-width="1.32" />
<line x1="530.33" y1="428.30" x2="535.33" y2="428.30" stroke="#ee1a1e" stroke-width="1.32" />
<rect x="529.28" y="354.80" width="7.10" height="66.40" stroke="#ee1a1e" fill="#f8a8ae" stroke-width="1.1"/>
<line x1="529.28" y1="380.00" x2="536.38" y2="380.00" stroke="#ee1a1e" stroke-width="1.1" />
<path d="M532.83 245.30L534.83 247.30L532.83 249.30L530.83 247.30Z" fill="#ee1a1e"/>
<polyline points="501.20,421.20 512.30,412.00 521.50,404.50 531.60,379.60" fill="none" stroke="#111" stroke-width="1.2"/>
<rect x="271.9" y="232.0" width="271.70000000000005" height="207.60000000000002" fill="none" stroke="#3c3c3c" stroke-width="1.2"/>
<line x1="268.10" y1="428.50" x2="271.90" y2="428.50" stroke="#3c3c3c" stroke-width="1.0" />
<text x="265.60" y="432.10" font-size="11" text-anchor="end" font-weight="bold" fill="#111" stroke="#111" stroke-width="0.45" >0</text>
<line x1="269.90" y1="405.38" x2="271.90" y2="405.38" stroke="#3c3c3c" stroke-width="0.9" />
<line x1="268.10" y1="382.25" x2="271.90" y2="382.25" stroke="#3c3c3c" stroke-width="1.0" />
<text x="265.60" y="385.85" font-size="11" text-anchor="end" font-weight="bold" fill="#111" stroke="#111" stroke-width="0.45" >2</text>
<line x1="269.90" y1="359.12" x2="271.90" y2="359.12" stroke="#3c3c3c" stroke-width="0.9" />
<line x1="268.10" y1="336.00" x2="271.90" y2="336.00" stroke="#3c3c3c" stroke-width="1.0" />
<text x="265.60" y="339.60" font-size="11" text-anchor="end" font-weight="bold" fill="#111" stroke="#111" stroke-width="0.45" >4</text>
<line x1="269.90" y1="312.88" x2="271.90" y2="312.88" stroke="#3c3c3c" stroke-width="0.9" />
<line x1="268.10" y1="289.75" x2="271.90" y2="289.75" stroke="#3c3c3c" stroke-width="1.0" />
<text x="265.60" y="293.35" font-size="11" text-anchor="end" font-weight="bold" fill="#111" stroke="#111" stroke-width="0.45" >6</text>
<line x1="269.90" y1="266.62" x2="271.90" y2="266.62" stroke="#3c3c3c" stroke-width="0.9" />
<line x1="268.10" y1="243.50" x2="271.90" y2="243.50" stroke="#3c3c3c" stroke-width="1.0" />
<text x="265.60" y="247.10" font-size="11" text-anchor="end" font-weight="bold" fill="#111" stroke="#111" stroke-width="0.45" >8</text>
<text x="255.00" y="336.00" font-size="11.2" text-anchor="middle" font-weight="bold" fill="#111" stroke="#111" stroke-width="0.45" transform="rotate(-90 255.00 336.00)" >Sediment yield (ton/ha/year)</text>
<text x="291.00" y="265.00" font-size="10.5" text-anchor="middle" font-weight="bold" fill="#111" stroke="#111" stroke-width="0.45" >(c)</text>
<line x1="271.90" y1="439.60" x2="271.90" y2="487.30" stroke="#3c3c3c" stroke-width="1.2" />
<line x1="543.60" y1="439.60" x2="543.60" y2="487.30" stroke="#3c3c3c" stroke-width="1.2" />
<line x1="271.90" y1="471.20" x2="543.60" y2="471.20" stroke="#3c3c3c" stroke-width="1.0" />
<line x1="271.90" y1="487.30" x2="543.60" y2="487.30" stroke="#3c3c3c" stroke-width="1.2" />
<line x1="288.20" y1="439.60" x2="288.20" y2="471.20" stroke="#3c3c3c" stroke-width="0.9" />
<line x1="299.07" y1="439.60" x2="299.07" y2="471.20" stroke="#3c3c3c" stroke-width="0.9" />
<line x1="309.94" y1="439.60" x2="309.94" y2="471.20" stroke="#3c3c3c" stroke-width="0.9" />
<text x="283.45" y="455.30" font-size="9.2" text-anchor="middle" font-weight="bold" fill="#111" stroke="#111" stroke-width="0.45" transform="rotate(-90 283.45 455.30)" >0–15</text>
<text x="297.04" y="455.30" font-size="9.2" text-anchor="middle" font-weight="bold" fill="#111" stroke="#111" stroke-width="0.45" transform="rotate(-90 297.04 455.30)" >15–30</text>
<text x="307.90" y="455.30" font-size="9.2" text-anchor="middle" font-weight="bold" fill="#111" stroke="#111" stroke-width="0.45" transform="rotate(-90 307.90 455.30)" >30–45</text>
<text x="321.49" y="455.30" font-size="9.2" text-anchor="middle" font-weight="bold" fill="#111" stroke="#111" stroke-width="0.45" transform="rotate(-90 321.49 455.30)" >&gt; 45</text>
<text x="299.07" y="482.60" font-size="9.6" text-anchor="middle" font-weight="bold" fill="#111" stroke="#111" stroke-width="0.45" >Acrisols</text>
<line x1="326.24" y1="439.60" x2="326.24" y2="487.30" stroke="#3c3c3c" stroke-width="1.1" />
<line x1="342.54" y1="439.60" x2="342.54" y2="471.20" stroke="#3c3c3c" stroke-width="0.9" />
<line x1="353.41" y1="439.60" x2="353.41" y2="471.20" stroke="#3c3c3c" stroke-width="0.9" />
<line x1="364.28" y1="439.60" x2="364.28" y2="471.20" stroke="#3c3c3c" stroke-width="0.9" />
<text x="337.79" y="455.30" font-size="9.2" text-anchor="middle" font-weight="bold" fill="#111" stroke="#111" stroke-width="0.45" transform="rotate(-90 337.79 455.30)" >0–15</text>
<text x="351.38" y="455.30" font-size="9.2" text-anchor="middle" font-weight="bold" fill="#111" stroke="#111" stroke-width="0.45" transform="rotate(-90 351.38 455.30)" >15–30</text>
<text x="362.24" y="455.30" font-size="9.2" text-anchor="middle" font-weight="bold" fill="#111" stroke="#111" stroke-width="0.45" transform="rotate(-90 362.24 455.30)" >30–45</text>
<text x="375.83" y="455.30" font-size="9.2" text-anchor="middle" font-weight="bold" fill="#111" stroke="#111" stroke-width="0.45" transform="rotate(-90 375.83 455.30)" >&gt; 45</text>
<text x="353.41" y="482.60" font-size="9.6" text-anchor="middle" font-weight="bold" fill="#111" stroke="#111" stroke-width="0.45" >Andosols</text>
<line x1="380.58" y1="439.60" x2="380.58" y2="487.30" stroke="#3c3c3c" stroke-width="1.1" />
<line x1="396.88" y1="439.60" x2="396.88" y2="471.20" stroke="#3c3c3c" stroke-width="0.9" />
<line x1="407.75" y1="439.60" x2="407.75" y2="471.20" stroke="#3c3c3c" stroke-width="0.9" />
<line x1="418.62" y1="439.60" x2="418.62" y2="471.20" stroke="#3c3c3c" stroke-width="0.9" />
<text x="392.13" y="455.30" font-size="9.2" text-anchor="middle" font-weight="bold" fill="#111" stroke="#111" stroke-width="0.45" transform="rotate(-90 392.13 455.30)" >0–15</text>
<text x="405.72" y="455.30" font-size="9.2" text-anchor="middle" font-weight="bold" fill="#111" stroke="#111" stroke-width="0.45" transform="rotate(-90 405.72 455.30)" >15–30</text>
<text x="416.58" y="455.30" font-size="9.2" text-anchor="middle" font-weight="bold" fill="#111" stroke="#111" stroke-width="0.45" transform="rotate(-90 416.58 455.30)" >30–45</text>
<text x="430.17" y="455.30" font-size="9.2" text-anchor="middle" font-weight="bold" fill="#111" stroke="#111" stroke-width="0.45" transform="rotate(-90 430.17 455.30)" >&gt; 45</text>
<text x="407.75" y="482.60" font-size="9.6" text-anchor="middle" font-weight="bold" fill="#111" stroke="#111" stroke-width="0.45" >Cambisols</text>
<line x1="434.92" y1="439.60" x2="434.92" y2="487.30" stroke="#3c3c3c" stroke-width="1.1" />
<line x1="451.22" y1="439.60" x2="451.22" y2="471.20" stroke="#3c3c3c" stroke-width="0.9" />
<line x1="462.09" y1="439.60" x2="462.09" y2="471.20" stroke="#3c3c3c" stroke-width="0.9" />
<line x1="472.96" y1="439.60" x2="472.96" y2="471.20" stroke="#3c3c3c" stroke-width="0.9" />
<text x="446.47" y="455.30" font-size="9.2" text-anchor="middle" font-weight="bold" fill="#111" stroke="#111" stroke-width="0.45" transform="rotate(-90 446.47 455.30)" >0–15</text>
<text x="460.06" y="455.30" font-size="9.2" text-anchor="middle" font-weight="bold" fill="#111" stroke="#111" stroke-width="0.45" transform="rotate(-90 460.06 455.30)" >15–30</text>
<text x="470.92" y="455.30" font-size="9.2" text-anchor="middle" font-weight="bold" fill="#111" stroke="#111" stroke-width="0.45" transform="rotate(-90 470.92 455.30)" >30–45</text>
<text x="484.51" y="455.30" font-size="9.2" text-anchor="middle" font-weight="bold" fill="#111" stroke="#111" stroke-width="0.45" transform="rotate(-90 484.51 455.30)" >&gt; 45</text>
<text x="462.09" y="482.60" font-size="9.6" text-anchor="middle" font-weight="bold" fill="#111" stroke="#111" stroke-width="0.45" >Gleysols</text>
<line x1="489.26" y1="439.60" x2="489.26" y2="487.30" stroke="#3c3c3c" stroke-width="1.1" />
<line x1="505.56" y1="439.60" x2="505.56" y2="471.20" stroke="#3c3c3c" stroke-width="0.9" />
<line x1="516.43" y1="439.60" x2="516.43" y2="471.20" stroke="#3c3c3c" stroke-width="0.9" />
<line x1="527.30" y1="439.60" x2="527.30" y2="471.20" stroke="#3c3c3c" stroke-width="0.9" />
<text x="500.81" y="455.30" font-size="9.2" text-anchor="middle" font-weight="bold" fill="#111" stroke="#111" stroke-width="0.45" transform="rotate(-90 500.81 455.30)" >0–15</text>
<text x="514.40" y="455.30" font-size="9.2" text-anchor="middle" font-weight="bold" fill="#111" stroke="#111" stroke-width="0.45" transform="rotate(-90 514.40 455.30)" >15–30</text>
<text x="525.26" y="455.30" font-size="9.2" text-anchor="middle" font-weight="bold" fill="#111" stroke="#111" stroke-width="0.45" transform="rotate(-90 525.26 455.30)" >30–45</text>
<text x="538.85" y="455.30" font-size="9.2" text-anchor="middle" font-weight="bold" fill="#111" stroke="#111" stroke-width="0.45" transform="rotate(-90 538.85 455.30)" >&gt; 45</text>
<text x="516.43" y="482.60" font-size="9.6" text-anchor="middle" font-weight="bold" fill="#111" stroke="#111" stroke-width="0.45" >Regosols</text>
</svg>
</body></html>
